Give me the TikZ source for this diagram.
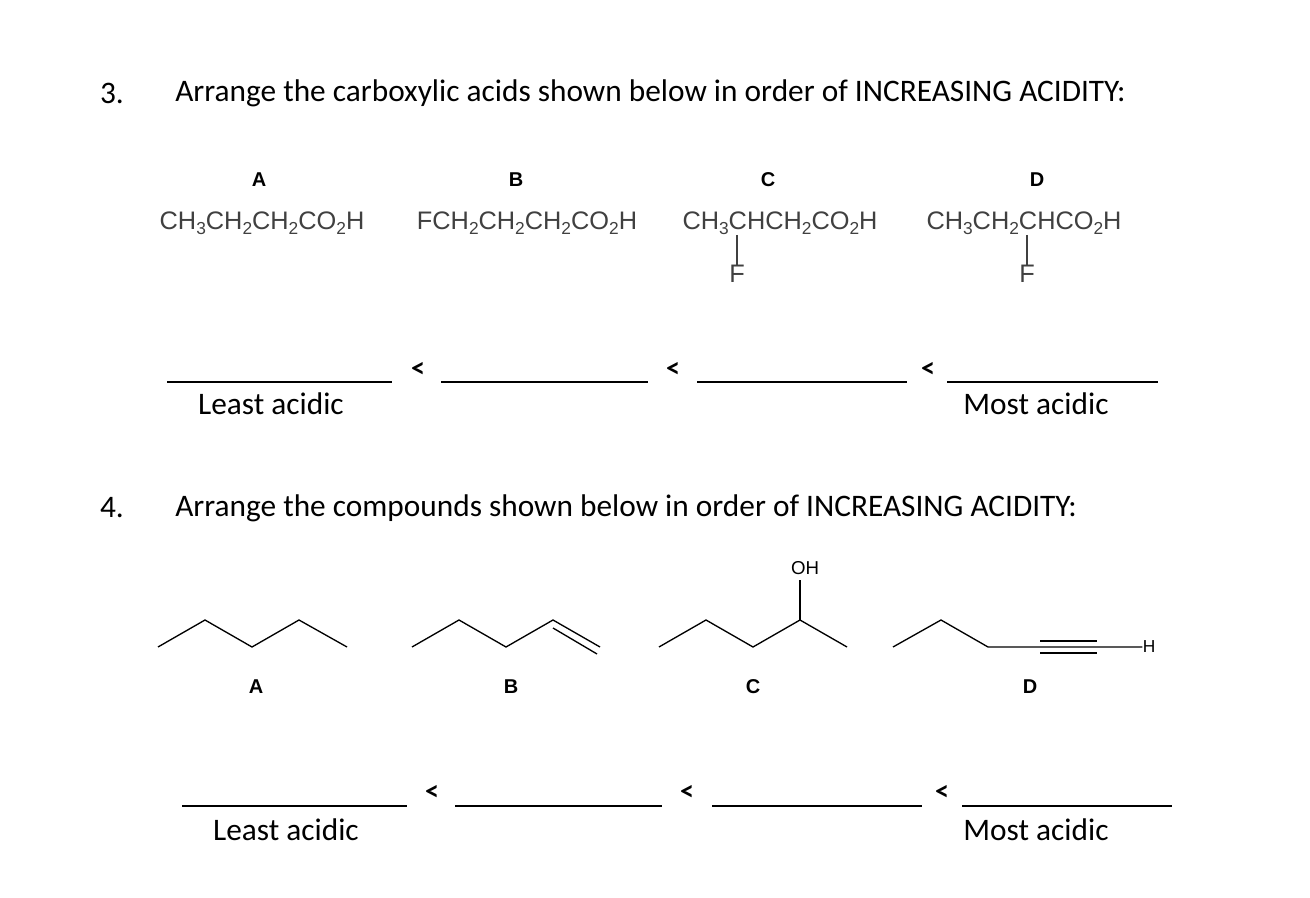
\documentclass[tikz,border=0pt]{standalone}
\usepackage{fontspec}
\setmainfont{Carlito}
\newfontfamily\arial{Liberation Sans}
\newcommand\sbs[1]{\raisebox{-0.35ex}{\fontsize{13}{13}\selectfont #1}}
\begin{document}
\begin{tikzpicture}[x=0.75pt,y=-0.75pt,
  big/.style={font=\fontsize{23.5}{26}\selectfont, inner sep=0},
  frm/.style={font=\arial\fontsize{19}{21}\selectfont\color{black!75}, inner sep=0},
  lab/.style={font=\arial\bfseries\fontsize{15}{17}\selectfont, inner sep=0},
  bond/.style={line width=1pt},
  blank/.style={line width=0.9pt},
  lt/.style={font=\bfseries\fontsize{21}{22}\selectfont, inner sep=0}]
\useasboundingbox (0,0) rectangle (1310,898);
% Question 3
\node[big] (n3) at (112,93) {3.};
\node[big,anchor=west] (q3) at (175,93) {Arrange the carboxylic acids shown below in order of INCREASING ACIDITY:};
\node[lab] (la) at (259,180) {A};
\node[lab] (lb) at (516,180) {B};
\node[lab] (lc) at (768,180) {C};
\node[lab] (ld) at (1037,180) {D};
\node[frm] (fa) at (262,223) {CH\sbs{3}CH\sbs{2}CH\sbs{2}CO\sbs{2}H};
\node[frm] (fb) at (527,223) {FCH\sbs{2}CH\sbs{2}CH\sbs{2}CO\sbs{2}H};
\node[frm] (fc) at (780,223) {CH\sbs{3}CHCH\sbs{2}CO\sbs{2}H};
\node[frm] (fd) at (1024,223) {CH\sbs{3}CH\sbs{2}CHCO\sbs{2}H};
\node[frm] (fcF) at (737,274) {F};
\node[frm] (fdF) at (1027,274) {F};
\draw[line width=0.8pt,black!75] (737,235) -- (fcF.north);
\draw[line width=0.8pt,black!75] (1027,235) -- (fdF.north);
\draw[blank] (167,382) -- (392,382);
\draw[blank] (441,382) -- (648,382);
\draw[blank] (697,382) -- (907,382);
\draw[blank] (947,382) -- (1158,382);
\node[lt] (l1) at (418,370) {<};
\node[lt] (l2) at (673,370) {<};
\node[lt] (l3) at (928,370) {<};
\node[big] (least3) at (271,404) {Least acidic};
\node[big] (most3) at (1036,404) {Most acidic};
% Question 4
\node[big] (n4) at (112,508) {4.};
\node[big,anchor=west] (q4) at (175,508) {Arrange the compounds shown below in order of INCREASING ACIDITY:};
\draw[bond] (158,647) -- (205,620) -- (252,647) -- (299,620) -- (347,647);
\draw[bond] (412,647) -- (459,620) -- (506,647) -- (553,620) -- (600,647);
\draw[bond] (553,628) -- (597,654);
\draw[bond] (659,647) -- (706,620) -- (753,647) -- (800,620) -- (847,647);
\node[frm,font=\arial\fontsize{14}{16}\selectfont] (oh) at (805,568) {OH};
\draw[bond] (800,620) -- (800,580);
\node[frm,font=\arial\fontsize{13}{14}\selectfont] (h) at (1149,647) {H};
\draw[bond] (893,647) -- (941,620) -- (988,647) -- (h.west);
\draw[bond] (1040,641) -- (1097,641);
\draw[bond] (1040,653) -- (1097,653);
\node[lab] (lA) at (256,687) {A};
\node[lab] (lB) at (511,687) {B};
\node[lab] (lC) at (753,687) {C};
\node[lab] (lD) at (1030,687) {D};
\draw[blank] (182,806) -- (407,806);
\draw[blank] (455,806) -- (662,806);
\draw[blank] (712,806) -- (922,806);
\draw[blank] (962,806) -- (1172,806);
\node[lt] (m1) at (432,793) {<};
\node[lt] (m2) at (687,793) {<};
\node[lt] (m3) at (942,793) {<};
\node[big] (least4) at (286,830) {Least acidic};
\node[big] (most4) at (1036,830) {Most acidic};
\end{tikzpicture}
\end{document}
